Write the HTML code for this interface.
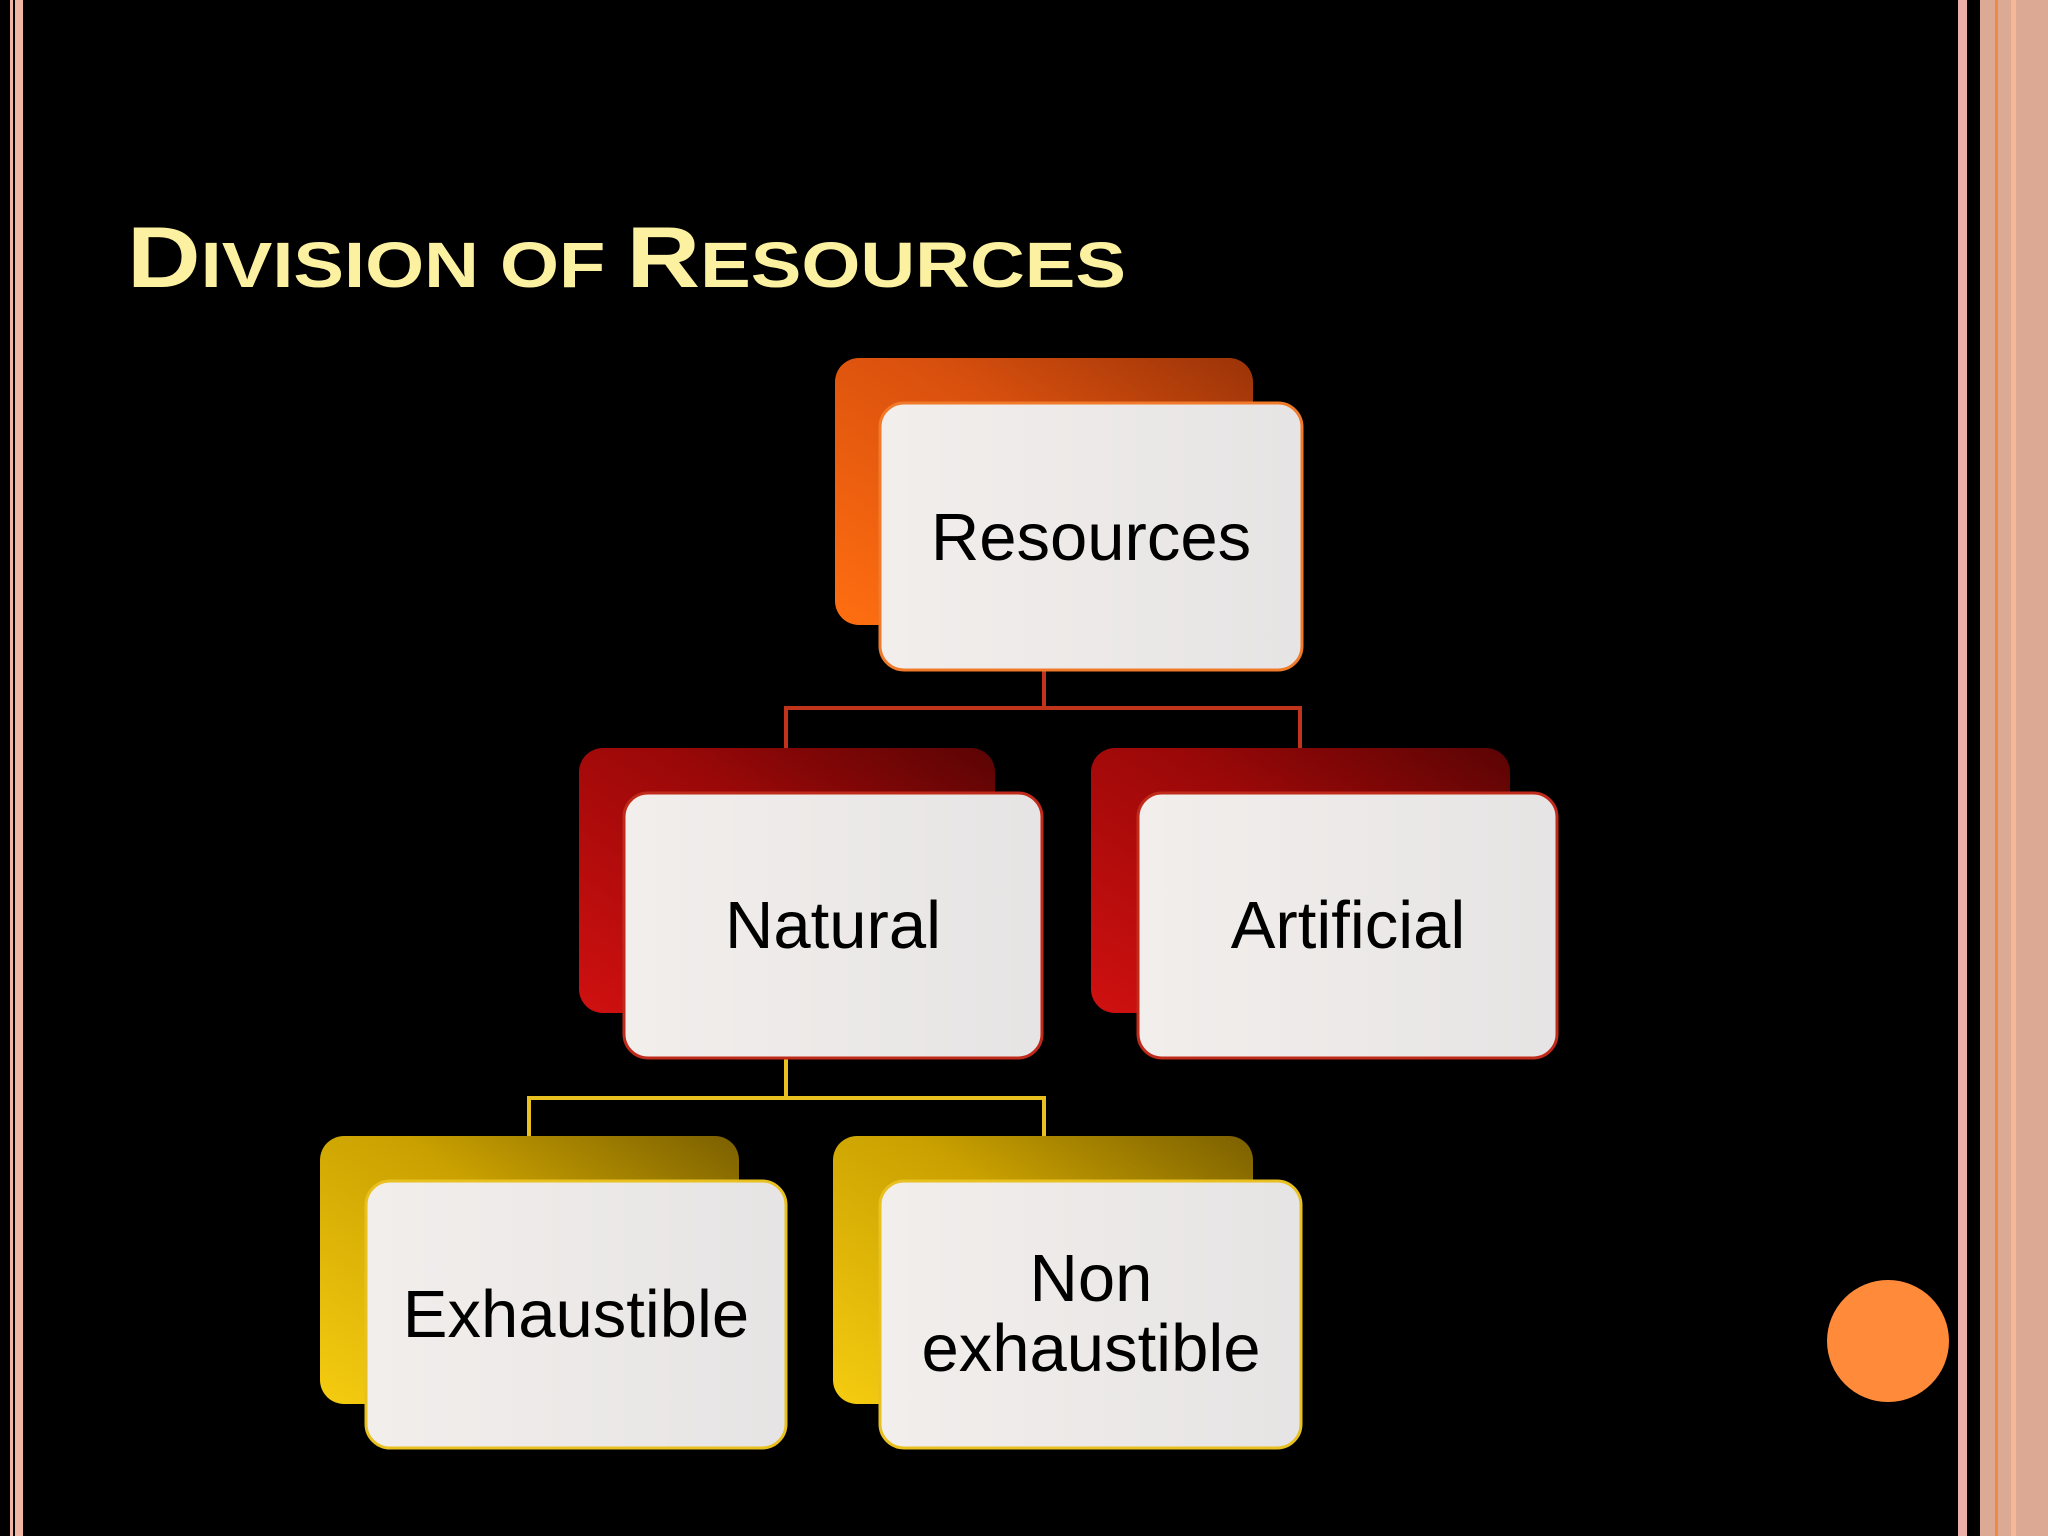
<!DOCTYPE html>
<html><head><style>
html,body{margin:0;padding:0;background:#000;}
svg{display:block}
</style></head><body>
<svg width="2048" height="1536" viewBox="0 0 2048 1536" xmlns="http://www.w3.org/2000/svg">
<defs>
<linearGradient id="go" x1="0" y1="1" x2="1" y2="0"><stop offset="0" stop-color="#ff6e10"/><stop offset="0.6" stop-color="#d9500e"/><stop offset="1" stop-color="#9a3308"/></linearGradient>
<linearGradient id="gr" x1="0" y1="1" x2="1" y2="0"><stop offset="0" stop-color="#d01010"/><stop offset="0.6" stop-color="#9a0808"/><stop offset="1" stop-color="#5a0404"/></linearGradient>
<linearGradient id="gy" x1="0" y1="1" x2="1" y2="0"><stop offset="0" stop-color="#f5cc10"/><stop offset="0.6" stop-color="#c9a000"/><stop offset="1" stop-color="#7a5f00"/></linearGradient>
<linearGradient id="gw" x1="0" y1="0" x2="1" y2="0"><stop offset="0" stop-color="#f2eeec"/><stop offset="1" stop-color="#e6e4e4"/></linearGradient>
</defs>
<rect width="2048" height="1536" fill="#000"/>
<!-- left border -->
<rect x="10" y="0" width="3" height="1536" fill="#f2b4a4"/>
<rect x="15" y="0" width="8" height="1536" fill="#f0b8a4"/>
<!-- right border -->
<rect x="1958" y="0" width="9" height="1536" fill="#eab0a8"/>
<rect x="1980" y="0" width="68" height="1536" fill="#dcaa94"/>
<rect x="1995" y="0" width="3" height="1536" fill="#f08a40"/>
<rect x="2011" y="0" width="5" height="1536" fill="#f6b896"/>
<!-- title -->
<text x="127" y="287" font-family="Liberation Sans, sans-serif" font-weight="bold" fill="#fcf1a0" textLength="999" lengthAdjust="spacingAndGlyphs"><tspan font-size="86">D</tspan><tspan font-size="64">IVISION OF </tspan><tspan font-size="86">R</tspan><tspan font-size="64">ESOURCES</tspan></text>
<!-- connectors -->
<g fill="none" stroke-width="4">
<path d="M1044 670 V708 M786 750 V708 H1300 V750" stroke="#c0341c"/>
<path d="M786 1058 V1098 M529 1136 V1098 H1044 V1136" stroke="#e8c020"/>
</g>
<!-- Resources -->
<rect x="835" y="358" width="418" height="267" rx="24" fill="url(#go)"/>
<rect x="880" y="403" width="422" height="267" rx="24" fill="url(#gw)" stroke="#f07a2a" stroke-width="3"/>
<!-- Natural -->
<rect x="579" y="748" width="416" height="265" rx="24" fill="url(#gr)"/>
<rect x="624" y="793" width="418" height="265" rx="24" fill="url(#gw)" stroke="#c02a1a" stroke-width="3"/>
<!-- Artificial -->
<rect x="1091" y="748" width="419" height="265" rx="24" fill="url(#gr)"/>
<rect x="1138" y="793" width="419" height="265" rx="24" fill="url(#gw)" stroke="#c02a1a" stroke-width="3"/>
<!-- Exhaustible -->
<rect x="320" y="1136" width="419" height="268" rx="24" fill="url(#gy)"/>
<rect x="366" y="1181" width="420" height="267" rx="24" fill="url(#gw)" stroke="#e8c020" stroke-width="3"/>
<!-- Non exhaustible -->
<rect x="833" y="1136" width="420" height="268" rx="24" fill="url(#gy)"/>
<rect x="880" y="1181" width="421" height="267" rx="24" fill="url(#gw)" stroke="#e8c020" stroke-width="3"/>
<g font-family="Liberation Sans, sans-serif" font-size="67" fill="#000" text-anchor="middle">
<text x="1091" y="560">Resources</text>
<text x="833" y="948">Natural</text>
<text x="1348" y="948">Artificial</text>
<text x="576" y="1337">Exhaustible</text>
<text x="1091" y="1301">Non</text>
<text x="1091" y="1371">exhaustible</text>
</g>
<circle cx="1888" cy="1341" r="61" fill="#ff8a3a"/>
</svg>
</body></html>
